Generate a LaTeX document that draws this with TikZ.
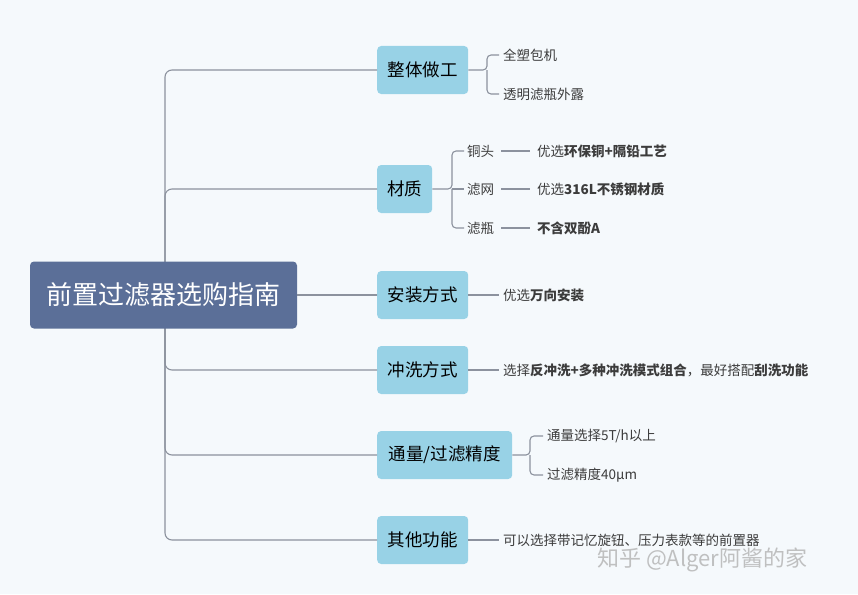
\documentclass[tikz,border=0pt]{standalone}
\usepackage{fontspec}
\setmainfont{Noto Sans CJK SC}
\begin{document}
\begin{tikzpicture}[x=1pt,y=-1pt,
  ln/.style={draw=lineC,line width=1.1pt,rounded corners=7pt},
  br/.style={fill=boxC,rounded corners=4pt,font=\fontsize{17.5}{20}\selectfont,text=black,inner sep=0pt,anchor=west,minimum height=48pt},
  lf/.style={font=\fontsize{13.5}{15}\selectfont,text=textC,anchor=west,inner sep=0pt}]
\definecolor{lineC}{HTML}{8C929E}
\definecolor{boxC}{HTML}{98D2E6}
\definecolor{rootC}{HTML}{5B6F98}
\definecolor{textC}{HTML}{3C3C3C}
\definecolor{bgC}{HTML}{F5F9FC}
\fill[bgC] (0,0) rectangle (858,594);
\useasboundingbox (0,0) rectangle (858,594);
% branches
\node[br,minimum width=91pt] (b1) at (377,70) {整体做工};
\node[br,minimum width=55pt] (b2) at (377,189) {材质};
\node[br,minimum width=91pt] (b3) at (377,295) {安装方式};
\node[br,minimum width=91pt] (b4) at (377,370) {冲洗方式};
\node[br,minimum width=135pt] (b5) at (377,455) {通量/过滤精度};
\node[br,minimum width=91pt] (b6) at (377,540) {其他功能};
\coordinate (sp) at (165,295);
\foreach \b in {b1,b2,b3,b4,b5,b6}{\draw[ln] (sp) |- (\b.west);}
\node[fill=rootC,rounded corners=4pt,minimum width=267pt,minimum height=67pt,inner sep=0pt,text=white,font=\fontsize{26}{30}\selectfont] (root) at (163.5,295) {前置过滤器选购指南};
\draw[ln] (root.east) -- (b3.west);
% leaves
\node[lf] (l11) at (503,55) {全塑包机};
\node[lf] (l12) at (503,94) {透明滤瓶外露};
\draw[ln,rounded corners=4pt] (b1.east) -- (487,70) |- ([xshift=-4pt]l11.west);
\draw[ln,rounded corners=4pt] (487,70) |- ([xshift=-4pt]l12.west);
\node[lf] (m1) at (467,151) {铜头};
\node[lf] (m2) at (467,189) {滤网};
\node[lf] (m3) at (467,228) {滤瓶};
\draw[ln,rounded corners=4pt] (b2.east) -- (452,189) |- ([xshift=-3pt]m1.west);
\draw[ln,rounded corners=4pt] (452,189) |- ([xshift=-3pt]m3.west);
\draw[ln] (452,189) -- ([xshift=-3pt]m2.west);
\node[lf] (n1) at (537,151) {优选\textbf{环保铜+隔铅工艺}};
\node[lf] (n2) at (537,189) {优选\textbf{316L不锈钢材质}};
\node[lf] (n3) at (537,228) {\textbf{不含双酚A}};
\draw[ln] ([xshift=7pt]m1.east) -- ([xshift=-7pt]n1.west);
\draw[ln] ([xshift=7pt]m2.east) -- ([xshift=-7pt]n2.west);
\draw[ln] ([xshift=7pt]m3.east) -- ([xshift=-7pt]n3.west);
\node[lf] (l3) at (503,295) {优选\textbf{万向安装}};
\draw[ln] (b3.east) -- ([xshift=-4pt]l3.west);
\node[lf] (l4) at (503,370) {选择\textbf{反冲洗+多种冲洗模式组合}，最好搭配\textbf{刮洗功能}};
\draw[ln] (b4.east) -- ([xshift=-4pt]l4.west);
\node[lf] (l51) at (547,436) {通量选择5T/h以上};
\node[lf] (l52) at (547,475) {过滤精度40μm};
\draw[ln,rounded corners=4pt] (b5.east) -- (530,455) |- ([xshift=-4pt]l51.west);
\draw[ln,rounded corners=4pt] (530,455) |- ([xshift=-4pt]l52.west);
\node[lf] (l6) at (503,540) {可以选择带记忆旋钮、压力表款等的前置器};
\draw[ln] (b6.east) -- ([xshift=-4pt]l6.west);
\node[anchor=west,inner sep=0pt,text=gray!60,opacity=0.8,font=\fontsize{22}{24}\selectfont] (wm) at (597,560) {知乎 @Alger阿酱的家};
\end{tikzpicture}
\end{document}
